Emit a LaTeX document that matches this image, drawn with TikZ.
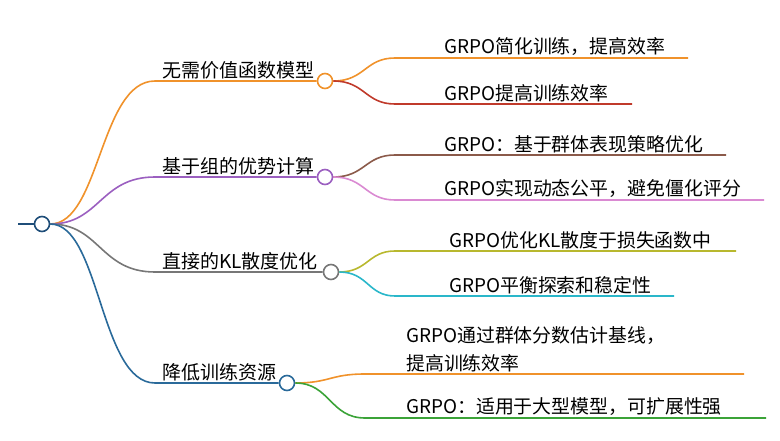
\documentclass[tikz,border=0pt]{standalone}
\usepackage{fontspec}
\setmainfont{Noto Sans CJK SC}
\begin{document}
\begin{tikzpicture}[x=1pt,y=-1pt,
  br/.style={line width=1.6pt},
  circ/.style={circle,draw,line width=1.6pt,fill=white,minimum size=15pt,inner sep=0pt},
  lab/.style={anchor=south west,inner sep=2pt,font=\fontsize{19}{22}\selectfont},
  leaf/.style={anchor=south west,inner sep=2pt,font=\fontsize{18.9}{28}\selectfont,align=left}]
\definecolor{cOr}{HTML}{F0922B}\definecolor{cPu}{HTML}{9B5FC0}
\definecolor{cGy}{HTML}{777777}\definecolor{cBl}{HTML}{2A6A9A}
\definecolor{cGr}{HTML}{3BA338}\definecolor{cRe}{HTML}{C03A2B}
\definecolor{cBr}{HTML}{8B5A4A}\definecolor{cPk}{HTML}{DA8AD2}
\definecolor{cOl}{HTML}{B8B82E}\definecolor{cCy}{HTML}{2AB7CA}
\definecolor{cRoot}{HTML}{1F4E79}
\useasboundingbox (0,0) rectangle (780,441);
\coordinate (s) at (18,224);
\node[circ,draw=cRoot] (root) at (42,224) {};
\draw[br,cRoot] (s) -- (root);
% branches
\foreach \n/\c/\x/\y/\t in {a/cOr/325/81/无需价值函数模型, b/cPu/325/177/基于组的优势计算, c/cGy/331/272/直接的KL散度优化, d/cBl/287/383/降低训练资源}{
  \coordinate (\n0) at (155,\y);
  \node[circ,draw=\c] (\n) at (\x,\y) {};
  \draw[br,\c] (root.east) .. controls (100,224) and (100,\y) .. (\n0) -- (\n.west);
  \node[lab] (\n t) at (160,\y) {\t};
}
% leaves
\foreach \p/\c/\py/\mx/\sx/\y/\ex/\tx/\t [count=\i] in {
  a/cOr/81/365/395/58/688/442/GRPO简化训练，提高效率,
  a/cRe/81/365/395/104/632/442/GRPO提高训练效率,
  b/cBr/177/365/395/155/726/442/GRPO：基于群体表现策略优化,
  b/cPk/177/365/395/200/764/442/GRPO实现动态公平，避免僵化评分,
  c/cOl/272/368/395/251/736/447/GRPO优化KL散度于损失函数中,
  c/cCy/272/368/395/296/674/447/GRPO平衡探索和稳定性,
  d/cOr/383/330/365/374/744/404/{GRPO通过群体分数估计基线，\\提高训练效率},
  d/cGr/383/330/365/418/766/404/GRPO：适用于大型模型，可扩展性强}{
  \coordinate (l\i s) at (\sx,\y);
  \coordinate (l\i e) at (\ex,\y);
  \draw[br,\c] (\p.east) .. controls (\mx,\py) and (\mx,\y) .. (l\i s) -- (l\i e);
  \node[leaf] (l\i t) at (\tx,\y) {\t};
}
\end{tikzpicture}
\end{document}
